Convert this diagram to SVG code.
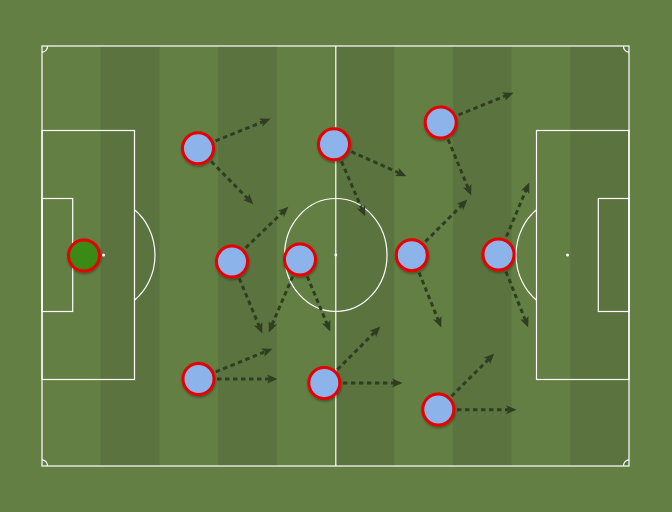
<svg xmlns="http://www.w3.org/2000/svg" width="672" height="512" viewBox="0 0 672 512">
<style>
.ln{fill:none;stroke:#ffffff;stroke-width:1.2}
.dark{fill:#5b743f}
.arr{fill:none;stroke:#2f3d22;stroke-width:3;stroke-dasharray:4.5 3.5;marker-end:url(#ah)}
.pl{fill:#8db4ea;stroke:#e60000;stroke-width:3;filter:url(#sh)}
.gk{fill:#3b8a17;stroke:#e60000;stroke-width:3;filter:url(#sh)}
</style>
<defs>
<marker id="ah" markerUnits="userSpaceOnUse" markerWidth="11" markerHeight="10" viewBox="0 0 11 10" refX="4" refY="5" orient="auto">
<path d="M0,0.5 L10.5,5 L0,9.5 L2.5,5 Z" fill="#2f3d22"/>
</marker>
<filter id="sh" x="-50%" y="-50%" width="200%" height="200%">
<feDropShadow dx="0.5" dy="1.5" stdDeviation="1.2" flood-color="#000" flood-opacity="0.35"/>
</filter>
</defs>
<g id="pitch">
<rect x="0" y="0" width="672" height="512" fill="#637f44"/>
<rect class="dark" x="100.7" y="46" width="58.7" height="420"/>
<rect class="dark" x="218.1" y="46" width="58.7" height="420"/>
<rect class="dark" x="335.5" y="46" width="58.7" height="420"/>
<rect class="dark" x="452.9" y="46" width="58.7" height="420"/>
<rect class="dark" x="570.3" y="46" width="58.7" height="420"/>
<rect class="ln" x="42" y="46" width="587" height="420"/>
<line class="ln" x1="335.8" y1="46" x2="335.8" y2="466"/>
<ellipse class="ln" cx="335.8" cy="255" rx="51.2" ry="56.5"/>
<circle cx="335.8" cy="255" r="1.4" fill="#fff"/>
<rect class="ln" x="42" y="130.5" width="92.5" height="249"/>
<rect class="ln" x="42" y="198.5" width="30.7" height="113"/>
<circle cx="103.5" cy="255" r="1.5" fill="#fff"/>
<path class="ln" d="M134.5,209.8 A51.2,56.5 0 0 1 134.5,300.2"/>
<rect class="ln" x="536.5" y="130.5" width="92.5" height="249"/>
<rect class="ln" x="598.3" y="198.5" width="30.7" height="113"/>
<circle cx="567.5" cy="255" r="1.5" fill="#fff"/>
<path class="ln" d="M536.5,209.8 A51.2,56.5 0 0 0 536.5,300.2"/>
<path class="ln" d="M47.6,46 A5.6,6.2 0 0 1 42,52.2"/>
<path class="ln" d="M623.4,46 A5.6,6.2 0 0 0 629,52.2"/>
<path class="ln" d="M42,459.8 A5.6,6.2 0 0 1 47.6,466"/>
<path class="ln" d="M623.4,466 A5.6,6.2 0 0 1 629,459.8"/>
</g>
<g id="connectors">
<line class="arr" x1="215.6" y1="140.9" x2="264.4" y2="121.2"/>
<line class="arr" x1="211.3" y1="161.5" x2="248.8" y2="199.7"/>
<line class="arr" x1="245.7" y1="247.8" x2="283.7" y2="211.2"/>
<line class="arr" x1="239.3" y1="278.5" x2="259.7" y2="327.5"/>
<line class="arr" x1="292.6" y1="276.5" x2="271.3" y2="326.5"/>
<line class="arr" x1="307.3" y1="276.5" x2="327.7" y2="325.5"/>
<line class="arr" x1="215.7" y1="371.8" x2="266.4" y2="351.2"/>
<line class="arr" x1="217" y1="379" x2="271" y2="379"/>
<line class="arr" x1="337.5" y1="369.5" x2="375.7" y2="331.2"/>
<line class="arr" x1="343" y1="383" x2="396" y2="383"/>
<line class="arr" x1="351.4" y1="151.7" x2="400.5" y2="173.6"/>
<line class="arr" x1="341.5" y1="161.4" x2="362.6" y2="210.5"/>
<line class="arr" x1="458.6" y1="114.9" x2="507.4" y2="95.2"/>
<line class="arr" x1="448.2" y1="139.6" x2="468.7" y2="189.5"/>
<line class="arr" x1="425.4" y1="241.6" x2="462.8" y2="204.2"/>
<line class="arr" x1="419.1" y1="272.6" x2="438.8" y2="321.4"/>
<line class="arr" x1="506.4" y1="236.5" x2="526.7" y2="188.5"/>
<line class="arr" x1="506" y1="271.7" x2="525.8" y2="321.4"/>
<line class="arr" x1="451.5" y1="396.2" x2="489.7" y2="358.2"/>
<line class="arr" x1="457" y1="409.7" x2="510" y2="409.7"/>
</g>
<g id="gk"><circle class="gk" cx="84" cy="255.5" r="15.5"/></g>
<g id="p1"><circle class="pl" cx="198" cy="148.3" r="15.5"/></g>
<g id="p2"><circle class="pl" cx="232" cy="261.5" r="15.5"/></g>
<g id="p3"><circle class="pl" cx="300" cy="259.5" r="15.5"/></g>
<g id="p4"><circle class="pl" cx="198.5" cy="379" r="15.5"/></g>
<g id="p5"><circle class="pl" cx="324.3" cy="383" r="15.5"/></g>
<g id="p6"><circle class="pl" cx="334" cy="144.3" r="15.5"/></g>
<g id="p7"><circle class="pl" cx="440.7" cy="122.5" r="15.5"/></g>
<g id="p8"><circle class="pl" cx="411.8" cy="255.2" r="15.5"/></g>
<g id="p9"><circle class="pl" cx="498.5" cy="254.5" r="15.5"/></g>
<g id="p10"><circle class="pl" cx="438.3" cy="409.5" r="15.5"/></g>
</svg>
